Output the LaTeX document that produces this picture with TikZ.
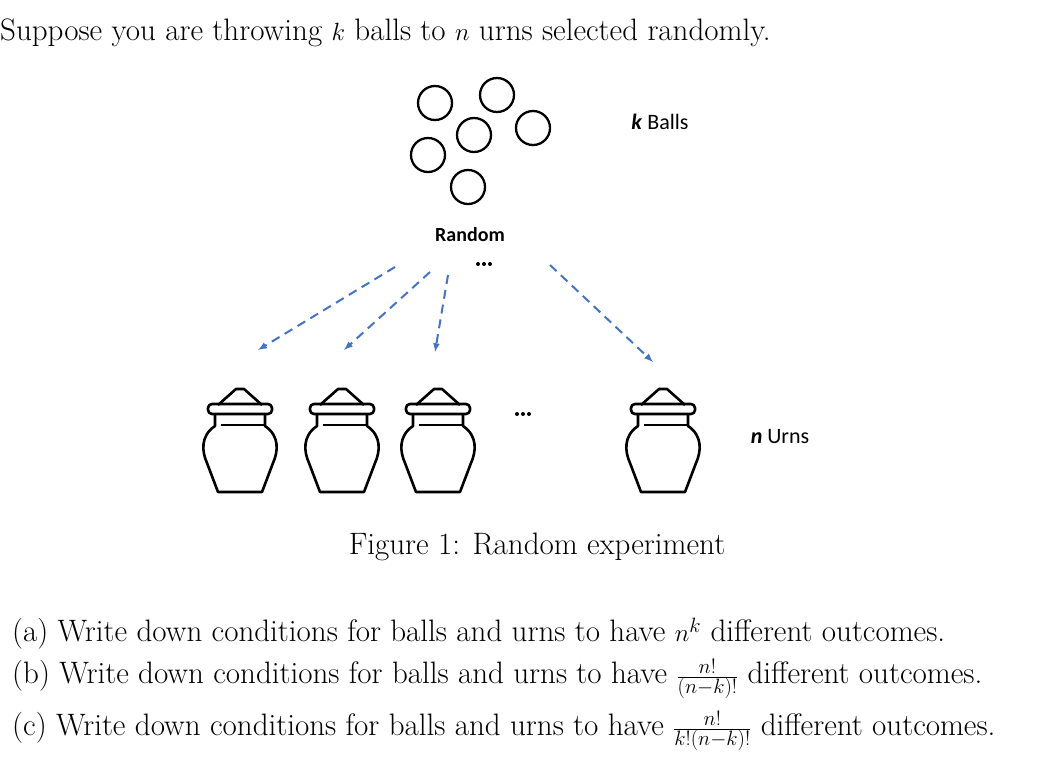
\documentclass[tikz,border=0pt]{standalone}
\usepackage{fontspec}
\newfontfamily\calfont{Carlito}
\definecolor{arrblue}{RGB}{68,114,196}
\begin{document}
\begin{tikzpicture}[x=1pt,y=-1pt,
  ball/.style={draw,line width=2.3pt,circle,minimum size=34pt,inner sep=0},
  arr/.style={draw=arrblue,line width=2pt,dash pattern=on 9pt off 6pt,-latex},
  body/.style={font=\fontsize{31}{36}\selectfont,anchor=west,inner sep=0},
  lab/.style={font=\calfont\fontsize{22}{26}\selectfont,inner sep=0},
  dots/.pic={\foreach \dx in {-6,0,6} \fill (\dx,0) circle (2pt);},
  urn/.pic={
    \begin{scope}[line width=2.6pt,line join=round]
    \draw (-22,17) -- (-4,1) -- (4,1) -- (22,17);
    \draw[rounded corners=4pt] (-32,16) rectangle (32,26);
    \draw (-25,26) -- (-25,38) .. controls (-40,48) and (-38,64) .. (-33,75) -- (-22,104) -- (22,104) -- (33,75) .. controls (38,64) and (40,48) .. (25,38) -- (25,26);
    \draw (-19,37) -- (24,37);
    \end{scope}}]
\useasboundingbox (0,0) rectangle (1040,764);
\node[body] (t) at (0,33) {Suppose you are throwing $k$ balls to $n$ urns selected randomly.};
\foreach \i/\p in {1/{435,103},2/{497,95},3/{474,135},4/{533,128},5/{428,155},6/{468,187}}
  \node[ball] (b\i) at (\p) {};
\node[lab] (kb) at (660,122) {\textbf{\textit{k}} Balls};
\node[lab,font=\calfont\bfseries\fontsize{20}{24}\selectfont] (r) at (470,235) {Random};
\pic (d1) at (484,264) {dots};
\coordinate (s1) at (395,267); \coordinate (e1) at (258,350);
\coordinate (s2) at (430,272); \coordinate (e2) at (344,350);
\coordinate (s3) at (448,275); \coordinate (e3) at (435,352);
\coordinate (s4) at (550,265); \coordinate (e4) at (653,362);
\foreach \i in {1,...,4} \draw[arr] (s\i) -- (e\i);
\foreach \c/\n in {240/u1,342/u2,438/u3,663/u4} \pic (\n) at (\c,388) {urn};
\pic (d2) at (523,414) {dots};
\node[lab] (nu) at (780,437) {\textbf{\textit{n}} Urns};
\node[body,anchor=center] (cap) at (537,547) {Figure 1: Random experiment};
\node[body] (qa) at (12,634) {(a) Write down conditions for balls and urns to have $n^k$ different outcomes.};
\node[body] (qb) at (12,679) {(b) Write down conditions for balls and urns to have $\frac{n!}{(n-k)!}$ different outcomes.};
\node[body] (qc) at (12,731) {(c) Write down conditions for balls and urns to have $\frac{n!}{k!(n-k)!}$ different outcomes.};
\end{tikzpicture}
\end{document}
